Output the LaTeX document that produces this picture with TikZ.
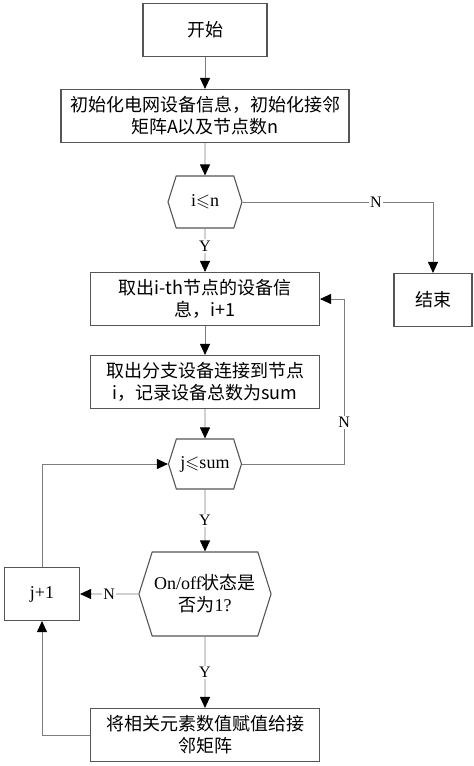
\documentclass[tikz,border=0pt]{standalone}
\usepackage{amssymb}
\usepackage{fontspec}
\setmainfont{Liberation Serif}
\newfontfamily\cjk{Noto Sans CJK SC}
\usetikzlibrary{arrows.meta,shapes.symbols,positioning,calc}
\definecolor{boxgray}{RGB}{85,85,85}
\definecolor{linegray}{RGB}{125,125,125}

\begin{document}
\begin{tikzpicture}[x=1pt,y=-1pt,
    every node/.style={font=\fontsize{18}{22}\selectfont},
    procbox/.style={draw=boxgray, line width=1.1pt, minimum height=53pt, align=center, inner sep=2pt},
    decide/.style={draw=boxgray, line width=1.1pt, shape=signal, signal to=east and west,
      signal pointer angle=145, align=center, inner sep=2pt},
    flow/.style={draw=linegray, line width=0.9pt, -{Triangle[length=11pt,width=10pt,color=black]}},
    lbl/.style={fill=white, inner sep=1.5pt, font=\fontsize{16}{16}\selectfont}]
    \useasboundingbox (0,0) rectangle (474,766);

    % Main column
    \node[procbox, minimum width=124pt] (start) at (205,30) {\cjk 开始};
    \node[procbox, minimum width=288pt] (init) at (205,116)
        {\cjk 初始化电网设备信息，初始化接邻\\\cjk 矩阵A以及节点数n};
    \node[decide, minimum width=74pt, minimum height=52pt] (condi) at (205,202) {i$\leqslant$n};
    \node[procbox, minimum width=229pt] (fetch) at (205,299)
        {\cjk 取出i-th节点的设备信\\\cjk 息，i+1};
    \node[procbox, minimum width=229pt] (branch) at (205,382)
        {\cjk 取出分支设备连接到节点\\\cjk i，记录设备总数为sum};
    \node[decide, minimum width=73pt, minimum height=50pt] (condj) at (205,464) {j$\leqslant$sum};
    \node[decide, minimum width=124pt, minimum height=84pt] (state) at (205,594)
        {On/off{\cjk 状态是}\\{\cjk 否为}1?};
    \node[procbox, minimum width=229pt] (assign) at (205,735)
        {\cjk 将相关元素数值赋值给接\\\cjk 邻矩阵};

    % Side boxes
    \node[procbox, minimum width=78pt] (finish) at (433,300) {\cjk 结束};
    \node[procbox, minimum width=75pt] (incj) at (42,594) {j+1};

    % Straight flow
    \draw[flow] (start) -- (init);
    \draw[flow] (init) -- (condi);
    \draw[flow] (condi) -- (fetch) node[lbl, pos=0.4] {Y};
    \draw[flow] (fetch) -- (branch);
    \draw[flow] (branch) -- (condj);
    \draw[flow] (condj) -- (state) node[lbl, midway] {Y};
    \draw[flow] (state) -- (assign) node[lbl, midway] {Y};
    \draw[flow] (state) -- (incj) node[lbl, midway] {N};

    % Loops
    \draw[flow] (condi.east) -| (finish.north) node[lbl, pos=0.35] {N};
    \draw[flow] (condj.east) -- ++(102,0) coordinate (nturn)
        -- (nturn |- fetch.east) node[lbl, pos=0.25] {N} -- (fetch.east);
    \draw[flow] (assign.west) -| (incj.south);
    \draw[flow] (incj.north) |- (condj.west);
\end{tikzpicture}
\end{document}
